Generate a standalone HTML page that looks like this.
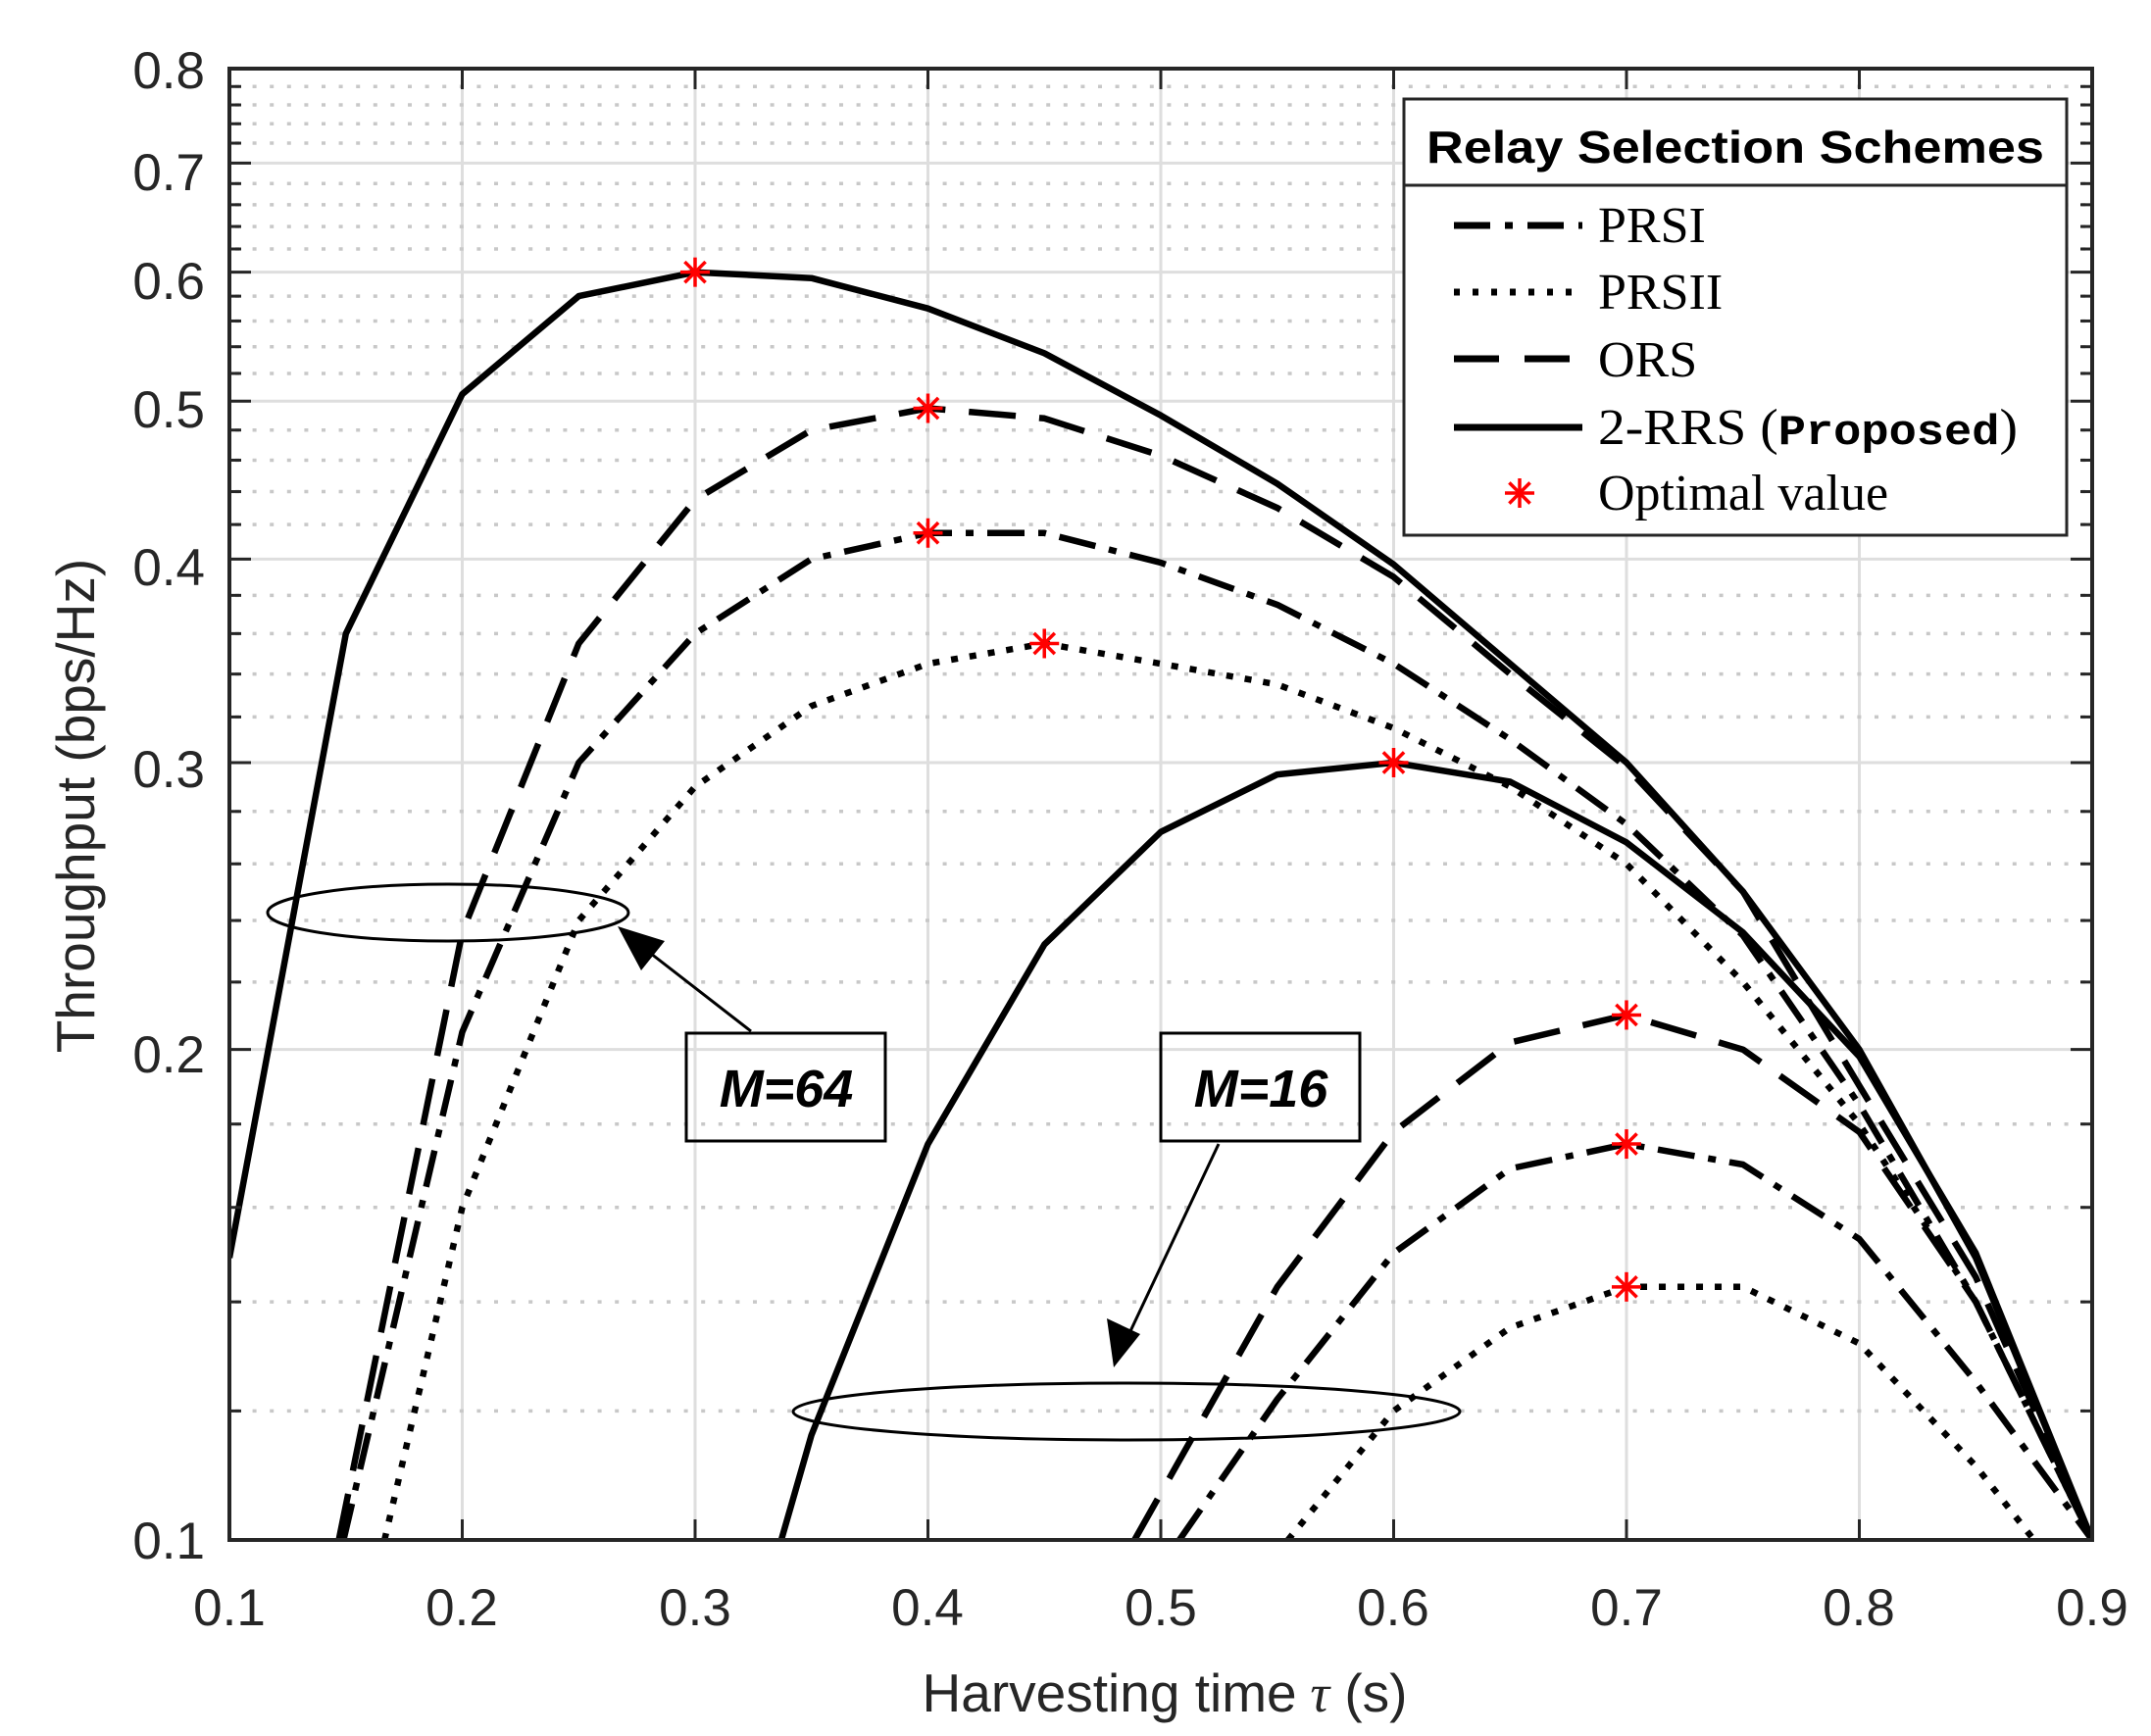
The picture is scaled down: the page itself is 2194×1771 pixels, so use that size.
<!DOCTYPE html>
<html><head><meta charset="utf-8"><style>
html,body{margin:0;padding:0;background:#fff;}
svg{display:block;}
</style></head><body>
<svg id="s" width="2194" height="1771" xmlns="http://www.w3.org/2000/svg">
<defs><clipPath id="c"><rect x="234" y="70" width="1900" height="1501"/></clipPath></defs>
<g id="grid"></g>
<g id="curves" clip-path="url(#c)" fill="none" stroke="#000" stroke-width="6.5" stroke-linejoin="round"></g>
<g id="stars" stroke="#f00" stroke-width="3.5"></g>
<rect x="234" y="70" width="1900" height="1501" fill="none" stroke="#262626" stroke-width="4"/>
<g id="ticks" stroke="#262626" stroke-width="3"></g>
<g font-family="Liberation Sans, sans-serif" font-size="53" fill="#262626" text-anchor="end">
<text x="209" y="1590">0.1</text><text x="209" y="1094">0.2</text><text x="209" y="803">0.3</text>
<text x="209" y="597">0.4</text><text x="209" y="436">0.5</text><text x="209" y="305">0.6</text>
<text x="209" y="194">0.7</text><text x="209" y="90">0.8</text>
</g>
<g font-family="Liberation Sans, sans-serif" font-size="53" fill="#262626" text-anchor="middle">
<text x="234" y="1658">0.1</text><text x="471" y="1658">0.2</text><text x="709" y="1658">0.3</text>
<text x="946" y="1658">0.4</text><text x="1184" y="1658">0.5</text><text x="1421" y="1658">0.6</text>
<text x="1659" y="1658">0.7</text><text x="1896" y="1658">0.8</text><text x="2134" y="1658">0.9</text>
<text x="1188" y="1746" font-size="55">Harvesting time<tspan font-family="Liberation Serif, serif" font-style="italic"> τ</tspan> (s)</text>
<text transform="translate(96,822) rotate(-90)" font-size="55">Throughput (bps/Hz)</text>
</g>
<!-- legend -->
<rect x="1432" y="101" width="676" height="445" fill="#fff" stroke="#262626" stroke-width="3"/>
<line x1="1432" y1="189" x2="2108" y2="189" stroke="#262626" stroke-width="3"/>
<text x="1455" y="166" font-family="Liberation Sans, sans-serif" font-weight="bold" font-size="46" textLength="630" lengthAdjust="spacingAndGlyphs">Relay Selection Schemes</text>
<g stroke="#000" stroke-width="7">
<line x1="1483" y1="230" x2="1614" y2="230" stroke-dasharray="37 15 8 15"/>
<line x1="1483" y1="298" x2="1614" y2="298" stroke-dasharray="6 13"/>
<line x1="1483" y1="366" x2="1614" y2="366" stroke-dasharray="46 26"/>
<line x1="1483" y1="436" x2="1614" y2="436"/>
</g>
<g font-family="Liberation Serif, serif" font-size="52" fill="#000">
<text x="1630" y="247">PRSI</text>
<text x="1630" y="315">PRSII</text>
<text x="1630" y="384">ORS</text>
<text x="1630" y="453" textLength="428" lengthAdjust="spacingAndGlyphs">2-RRS (<tspan font-family="Liberation Mono, monospace" font-weight="bold" font-size="44">Proposed</tspan>)</text>
<text x="1630" y="520">Optimal value</text>
</g>
<g id="lstar" stroke="#f00" stroke-width="3.5"></g>
<!-- annotations -->
<g fill="none" stroke="#000" stroke-width="3">
<ellipse cx="457" cy="931" rx="184" ry="29"/>
<ellipse cx="1149" cy="1440" rx="340" ry="29"/>
<line x1="766" y1="1052" x2="650" y2="962"/>
<line x1="1243" y1="1167" x2="1145" y2="1375"/>
<rect x="700" y="1054" width="203" height="110"/>
<rect x="1184" y="1054" width="203" height="110"/>
</g>
<polygon points="630,945 678,960 654,990" fill="#000"/>
<polygon points="1136,1395 1129,1345 1163,1361" fill="#000"/>
<g font-family="Liberation Sans, sans-serif" font-weight="bold" font-style="italic" font-size="54" fill="#000" text-anchor="middle">
<text x="802" y="1129">M=64</text><text x="1286" y="1129">M=16</text>
</g>
<script>
(function(){
var NS="http://www.w3.org/2000/svg";
function X(t){return 234+(t-0.1)*2375;}
function Y(v){return 1571-(Math.log10(v)+1)/0.90309*1501;}
function el(p,tag,a){var e=document.createElementNS(NS,tag);for(var k in a)e.setAttribute(k,a[k]);p.appendChild(e);return e;}
var g=document.getElementById('grid'),tk=document.getElementById('ticks');
for(var i=2;i<=8;i++){var x=X(i/10);el(g,'line',{x1:x,y1:70,x2:x,y2:1571,stroke:'#dedede','stroke-width':3});
el(tk,'line',{x1:x,y1:1571,x2:x,y2:1550});el(tk,'line',{x1:x,y1:70,x2:x,y2:91});}
for(var k=10;k<=80;k+=2){var v=k/100,y=Y(v),maj=(k%10==0);
if(k>10&&k<80){ if(maj) el(g,'line',{x1:234,y1:y,x2:2134,y2:y,stroke:'#dedede','stroke-width':3});
 else el(g,'line',{x1:240,y1:y,x2:2134,y2:y,stroke:'#c8c8c8','stroke-width':3.5,'stroke-dasharray':'4 13.6'});}
var L=maj?22:12;el(tk,'line',{x1:234,y1:y,x2:234+L,y2:y});el(tk,'line',{x1:2134,y1:y,x2:2134-L,y2:y});}
var S=[
 ['', [[0.1,0.149],[0.15,0.36],[0.2,0.505],[0.25,0.58],[0.3,0.6],[0.35,0.595],[0.4,0.57],[0.45,0.535],[0.5,0.49],[0.55,0.445],[0.6,0.397],[0.65,0.345],[0.7,0.3],[0.75,0.25],[0.8,0.2],[0.85,0.149],[0.9,0.1]]],
 ['48 24',[[0.147,0.1],[0.2,0.236],[0.25,0.355],[0.3,0.435],[0.35,0.48],[0.4,0.495],[0.45,0.488],[0.5,0.463],[0.55,0.43],[0.6,0.39],[0.65,0.34],[0.7,0.298],[0.75,0.25],[0.8,0.19],[0.85,0.145],[0.9,0.1]]],
 ['38 14 8 14',[[0.149,0.1],[0.2,0.205],[0.25,0.3],[0.3,0.36],[0.35,0.4],[0.4,0.415],[0.45,0.415],[0.5,0.398],[0.55,0.375],[0.6,0.345],[0.65,0.31],[0.7,0.275],[0.75,0.235],[0.8,0.185],[0.85,0.14],[0.9,0.1]]],
 ['7 12',[[0.1666,0.1],[0.2,0.16],[0.25,0.24],[0.3,0.29],[0.35,0.325],[0.4,0.345],[0.45,0.355],[0.5,0.345],[0.55,0.335],[0.6,0.315],[0.65,0.29],[0.7,0.26],[0.75,0.22],[0.8,0.18],[0.85,0.14],[0.9,0.1]]],
 ['', [[0.337,0.1],[0.35,0.116],[0.4,0.175],[0.45,0.232],[0.5,0.272],[0.55,0.295],[0.6,0.3],[0.65,0.292],[0.7,0.268],[0.75,0.236],[0.8,0.198],[0.85,0.15],[0.9,0.1]]],
 ['48 24',[[0.4887,0.1],[0.55,0.143],[0.6,0.178],[0.65,0.202],[0.7,0.21],[0.75,0.2],[0.8,0.178],[0.85,0.14],[0.9,0.1]]],
 ['38 14 8 14',[[0.508,0.1],[0.55,0.122],[0.6,0.15],[0.65,0.169],[0.7,0.175],[0.75,0.17],[0.8,0.153],[0.85,0.125],[0.9,0.1]]],
 ['7 12',[[0.5546,0.1],[0.6,0.12],[0.65,0.135],[0.7,0.143],[0.75,0.143],[0.8,0.132],[0.85,0.111],[0.875,0.1]]]
];
var cg=document.getElementById('curves');
S.forEach(function(s){var d=s[1].map(function(p,i){return (i?'L':'M')+X(p[0]).toFixed(1)+' '+Y(p[1]).toFixed(1);}).join(' ');
var a={d:d};if(s[0])a['stroke-dasharray']=s[0];el(cg,'path',a);});
var st=document.getElementById('stars');
function star(p,x,y){var r=15,q=10.6;el(p,'line',{x1:x-r,y1:y,x2:x+r,y2:y});el(p,'line',{x1:x,y1:y-r,x2:x,y2:y+r});
el(p,'line',{x1:x-q,y1:y-q,x2:x+q,y2:y+q});el(p,'line',{x1:x-q,y1:y+q,x2:x+q,y2:y-q});}
[[0.3,0.6],[0.4,0.495],[0.4,0.415],[0.45,0.355],[0.6,0.3],[0.7,0.21],[0.7,0.175],[0.7,0.143]].forEach(function(p){star(st,X(p[0]),Y(p[1]));});
star(document.getElementById('lstar'),1550,503);
})();
</script>
</svg>
</body></html>
